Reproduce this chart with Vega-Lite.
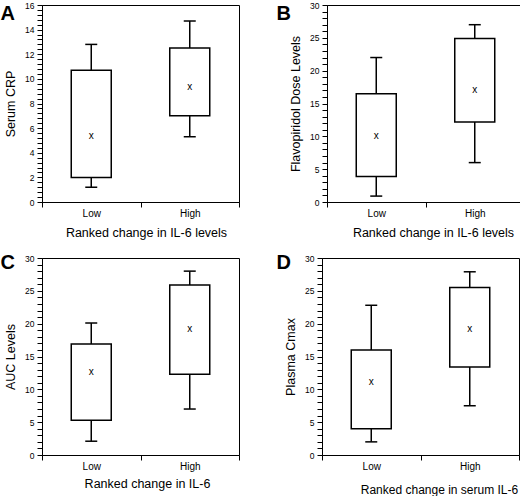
{
  "$schema": "https://vega.github.io/schema/vega-lite/v6.json",
  "padding": {"left": 0, "top": 0, "right": 2, "bottom": 0},
  "data": {
    "values": [
      {"panel": "A", "group": "Low", "lo": 1.2, "q1": 2.0, "q3": 10.7, "hi": 12.8, "mean": 5.35},
      {"panel": "A", "group": "High", "lo": 5.3, "q1": 7.0, "q3": 12.5, "hi": 14.7, "mean": 9.35},
      {"panel": "B", "group": "Low", "lo": 0.9, "q1": 3.9, "q3": 16.5, "hi": 22.0, "mean": 10.1},
      {"panel": "B", "group": "High", "lo": 6.0, "q1": 12.2, "q3": 24.9, "hi": 27.0, "mean": 17.1},
      {"panel": "C", "group": "Low", "lo": 2.1, "q1": 5.3, "q3": 16.9, "hi": 20.1, "mean": 12.6},
      {"panel": "C", "group": "High", "lo": 7.0, "q1": 12.3, "q3": 25.9, "hi": 28.0, "mean": 19.2},
      {"panel": "D", "group": "Low", "lo": 2.0, "q1": 4.0, "q3": 16.0, "hi": 22.8, "mean": 11.1},
      {"panel": "D", "group": "High", "lo": 7.5, "q1": 13.4, "q3": 25.5, "hi": 27.9, "mean": 19.2}
    ]
  },
  "spacing": 13,
  "vconcat": [
    {
      "spacing": 36,
      "hconcat": [
        {
          "width": 197,
          "height": 197,
          "title": {"text": "A", "anchor": "start", "frame": "bounds", "fontSize": 20, "fontWeight": "bold", "offset": 0, "dy": 23, "dx": -4},
          "transform": [{"filter": "datum.panel == 'A'"}],
          "encoding": {
            "x": {
              "field": "group",
              "type": "nominal",
              "sort": ["Low", "High"],
              "scale": {"paddingInner": 0, "paddingOuter": 0},
              "axis": {"title": "Ranked change in IL-6 levels", "labelAngle": 0, "tickBand": "extent", "labelFontSize": 10, "tickSize": 5, "labelPadding": 1, "titlePadding": 8, "titleX": 104}
            }
          },
          "layer": [
            {
              "mark": {"type": "rule", "strokeWidth": 1.5, "color": "black"},
              "encoding": {
                "y": {
                  "field": "lo",
                  "type": "quantitative",
                  "scale": {"domain": [0, 16], "nice": false},
                  "axis": {
                    "title": "Serum CRP",
                    "values": [0, 0.4, 0.8, 1.2, 1.6, 2, 2.4, 2.8, 3.2, 3.6, 4, 4.4, 4.8, 5.2, 5.6, 6, 6.4, 6.8, 7.2, 7.6, 8, 8.4, 8.8, 9.2, 9.6, 10, 10.4, 10.8, 11.2, 11.6, 12, 12.4, 12.8, 13.2, 13.6, 14, 14.4, 14.8, 15.2, 15.6, 16],
                    "tickCount": 100,
                    "labelExpr": "abs(datum.value / 2 - round(datum.value / 2)) < 0.01 ? format(datum.value, 'd') : ''",
                    "tickSize": 5,
                    "encode": {"ticks": {"update": {"x2": {"signal": "abs(datum.value / 2 - round(datum.value / 2)) < 0.01 ? -5 : -2.5"}}}},
                    "labelOverlap": false,
                    "labelFlush": false,
                    "labelPadding": 3,
                    "titlePadding": 7
                  }
                },
                "y2": {"field": "hi"}
              }
            },
            {
              "mark": {"type": "bar", "width": 40, "fill": "white", "stroke": "black", "strokeWidth": 1.5},
              "encoding": {"y": {"field": "q1", "type": "quantitative"}, "y2": {"field": "q3"}}
            },
            {
              "mark": {"type": "tick", "size": 12, "thickness": 1.5, "color": "black", "opacity": 1},
              "encoding": {"y": {"field": "lo", "type": "quantitative"}}
            },
            {
              "mark": {"type": "tick", "size": 12, "thickness": 1.5, "color": "black", "opacity": 1},
              "encoding": {"y": {"field": "hi", "type": "quantitative"}}
            },
            {
              "mark": {"type": "text", "text": "x", "fontSize": 10, "baseline": "middle", "color": "black"},
              "encoding": {"y": {"field": "mean", "type": "quantitative"}}
            }
          ]
        },
        {
          "width": 197,
          "height": 197,
          "title": {"text": "B", "anchor": "start", "frame": "bounds", "fontSize": 20, "fontWeight": "bold", "offset": 0, "dy": 23, "dx": -13},
          "transform": [{"filter": "datum.panel == 'B'"}],
          "encoding": {
            "x": {
              "field": "group",
              "type": "nominal",
              "sort": ["Low", "High"],
              "scale": {"paddingInner": 0, "paddingOuter": 0},
              "axis": {"title": "Ranked change in IL-6 levels", "labelAngle": 0, "tickBand": "extent", "labelFontSize": 10, "tickSize": 5, "labelPadding": 1, "titlePadding": 8, "titleX": 106}
            }
          },
          "layer": [
            {
              "mark": {"type": "rule", "strokeWidth": 1.5, "color": "black"},
              "encoding": {
                "y": {
                  "field": "lo",
                  "type": "quantitative",
                  "scale": {"domain": [0, 30], "nice": false},
                  "axis": {
                    "title": "Flavopiridol Dose Levels",
                    "values": [0, 1, 2, 3, 4, 5, 6, 7, 8, 9, 10, 11, 12, 13, 14, 15, 16, 17, 18, 19, 20, 21, 22, 23, 24, 25, 26, 27, 28, 29, 30],
                    "tickCount": 100,
                    "labelExpr": "datum.value % 5 == 0 ? format(datum.value, 'd') : ''",
                    "tickSize": 5,
                    "encode": {"ticks": {"update": {"x2": {"signal": "datum.value % 5 == 0 ? -5 : -2.5"}}}},
                    "labelOverlap": false,
                    "labelFlush": false,
                    "labelPadding": 3,
                    "titlePadding": 7
                  }
                },
                "y2": {"field": "hi"}
              }
            },
            {
              "mark": {"type": "bar", "width": 40, "fill": "white", "stroke": "black", "strokeWidth": 1.5},
              "encoding": {"y": {"field": "q1", "type": "quantitative"}, "y2": {"field": "q3"}}
            },
            {
              "mark": {"type": "tick", "size": 12, "thickness": 1.5, "color": "black", "opacity": 1},
              "encoding": {"y": {"field": "lo", "type": "quantitative"}}
            },
            {
              "mark": {"type": "tick", "size": 12, "thickness": 1.5, "color": "black", "opacity": 1},
              "encoding": {"y": {"field": "hi", "type": "quantitative"}}
            },
            {
              "mark": {"type": "text", "text": "x", "fontSize": 10, "baseline": "middle", "color": "black"},
              "encoding": {"y": {"field": "mean", "type": "quantitative"}}
            }
          ]
        }
      ]
    },
    {
      "spacing": 36,
      "hconcat": [
        {
          "width": 197,
          "height": 197,
          "title": {"text": "C", "anchor": "start", "frame": "bounds", "fontSize": 20, "fontWeight": "bold", "offset": 0, "dy": 19, "dx": -4},
          "transform": [{"filter": "datum.panel == 'C'"}],
          "encoding": {
            "x": {
              "field": "group",
              "type": "nominal",
              "sort": ["Low", "High"],
              "scale": {"paddingInner": 0, "paddingOuter": 0},
              "axis": {"title": "Ranked change in IL-6", "labelAngle": 0, "tickBand": "extent", "labelFontSize": 10, "tickSize": 5, "labelPadding": 1, "titlePadding": 6.5, "titleX": 105}
            }
          },
          "layer": [
            {
              "mark": {"type": "rule", "strokeWidth": 1.5, "color": "black"},
              "encoding": {
                "y": {
                  "field": "lo",
                  "type": "quantitative",
                  "scale": {"domain": [0, 30], "nice": false},
                  "axis": {
                    "title": "AUC Levels",
                    "values": [0, 1, 2, 3, 4, 5, 6, 7, 8, 9, 10, 11, 12, 13, 14, 15, 16, 17, 18, 19, 20, 21, 22, 23, 24, 25, 26, 27, 28, 29, 30],
                    "tickCount": 100,
                    "labelExpr": "datum.value % 5 == 0 ? format(datum.value, 'd') : ''",
                    "tickSize": 5,
                    "encode": {"ticks": {"update": {"x2": {"signal": "datum.value % 5 == 0 ? -5 : -2.5"}}}},
                    "labelOverlap": false,
                    "labelFlush": false,
                    "labelPadding": 3,
                    "titlePadding": 7
                  }
                },
                "y2": {"field": "hi"}
              }
            },
            {
              "mark": {"type": "bar", "width": 40, "fill": "white", "stroke": "black", "strokeWidth": 1.5},
              "encoding": {"y": {"field": "q1", "type": "quantitative"}, "y2": {"field": "q3"}}
            },
            {
              "mark": {"type": "tick", "size": 12, "thickness": 1.5, "color": "black", "opacity": 1},
              "encoding": {"y": {"field": "lo", "type": "quantitative"}}
            },
            {
              "mark": {"type": "tick", "size": 12, "thickness": 1.5, "color": "black", "opacity": 1},
              "encoding": {"y": {"field": "hi", "type": "quantitative"}}
            },
            {
              "mark": {"type": "text", "text": "x", "fontSize": 10, "baseline": "middle", "color": "black"},
              "encoding": {"y": {"field": "mean", "type": "quantitative"}}
            }
          ]
        },
        {
          "width": 197,
          "height": 197,
          "title": {"text": "D", "anchor": "start", "frame": "bounds", "fontSize": 20, "fontWeight": "bold", "offset": 0, "dy": 19, "dx": -8},
          "transform": [{"filter": "datum.panel == 'D'"}],
          "encoding": {
            "x": {
              "field": "group",
              "type": "nominal",
              "sort": ["Low", "High"],
              "scale": {"paddingInner": 0, "paddingOuter": 0},
              "axis": {"title": "Ranked change in serum IL-6", "labelAngle": 0, "tickBand": "extent", "labelFontSize": 10, "tickSize": 5, "labelPadding": 1, "titlePadding": 13, "titleX": 117, "titleFontSize": 12}
            }
          },
          "layer": [
            {
              "mark": {"type": "rule", "strokeWidth": 1.5, "color": "black"},
              "encoding": {
                "y": {
                  "field": "lo",
                  "type": "quantitative",
                  "scale": {"domain": [0, 30], "nice": false},
                  "axis": {
                    "title": "Plasma Cmax",
                    "values": [0, 1, 2, 3, 4, 5, 6, 7, 8, 9, 10, 11, 12, 13, 14, 15, 16, 17, 18, 19, 20, 21, 22, 23, 24, 25, 26, 27, 28, 29, 30],
                    "tickCount": 100,
                    "labelExpr": "datum.value % 5 == 0 ? format(datum.value, 'd') : ''",
                    "tickSize": 5,
                    "encode": {"ticks": {"update": {"x2": {"signal": "datum.value % 5 == 0 ? -5 : -2.5"}}}},
                    "labelOverlap": false,
                    "labelFlush": false,
                    "labelPadding": 3,
                    "titlePadding": 7
                  }
                },
                "y2": {"field": "hi"}
              }
            },
            {
              "mark": {"type": "bar", "width": 40, "fill": "white", "stroke": "black", "strokeWidth": 1.5},
              "encoding": {"y": {"field": "q1", "type": "quantitative"}, "y2": {"field": "q3"}}
            },
            {
              "mark": {"type": "tick", "size": 12, "thickness": 1.5, "color": "black", "opacity": 1},
              "encoding": {"y": {"field": "lo", "type": "quantitative"}}
            },
            {
              "mark": {"type": "tick", "size": 12, "thickness": 1.5, "color": "black", "opacity": 1},
              "encoding": {"y": {"field": "hi", "type": "quantitative"}}
            },
            {
              "mark": {"type": "text", "text": "x", "fontSize": 10, "baseline": "middle", "color": "black"},
              "encoding": {"y": {"field": "mean", "type": "quantitative"}}
            }
          ]
        }
      ]
    }
  ],
  "config": {
    "font": "Liberation Sans",
    "view": {"stroke": "black", "strokeWidth": 1},
    "axis": {
      "domainColor": "black",
      "tickColor": "black",
      "labelColor": "black",
      "titleColor": "black",
      "grid": false,
      "titleFontWeight": "normal",
      "titleFontSize": 12.5,
      "labelFontSize": 8.5
    },
    "title": {"color": "black"}
  }
}
